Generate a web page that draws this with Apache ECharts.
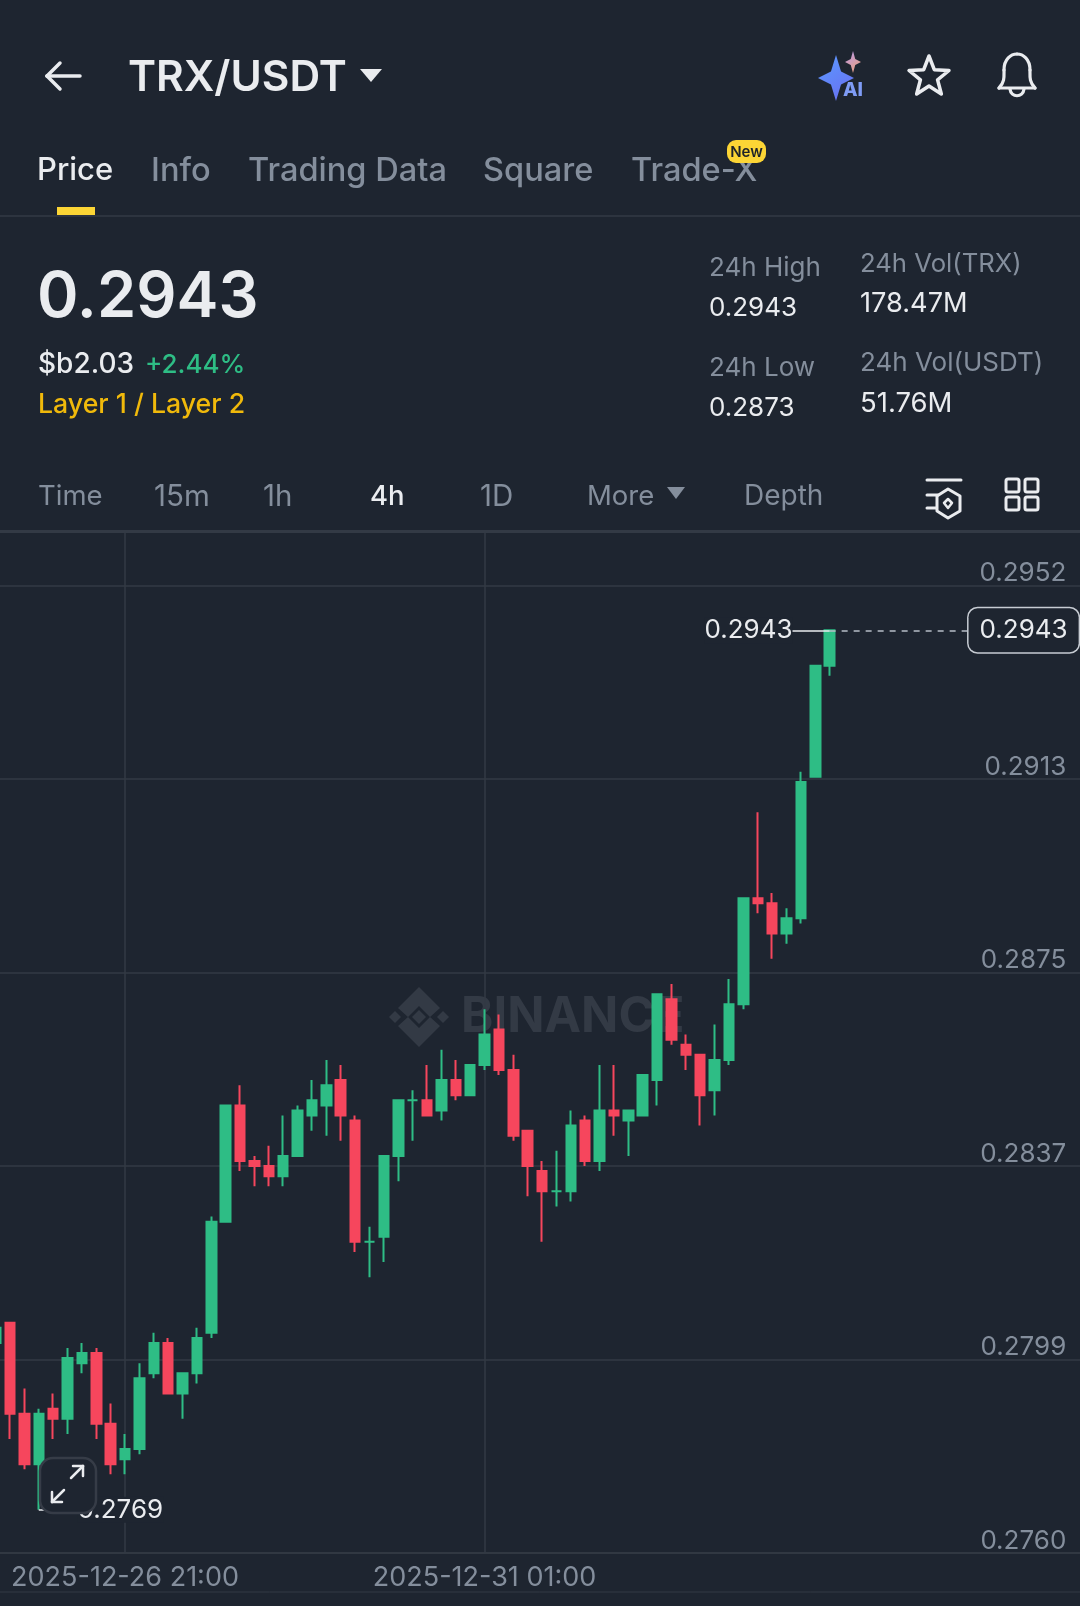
<!DOCTYPE html>
<html>
<head>
<meta charset="utf-8">
<title>TRX/USDT</title>
<style>html,body{margin:0;padding:0;background:#1e2530}#container{width:1080px;height:1606px}</style>
<script src="https://cdn.jsdelivr.net/npm/echarts@6/dist/echarts.min.js"></script>
</head>
<body>
<div id="container"></div>
<script>
// 4h candles
var categories = [
  '2025-12-25 09:00','2025-12-25 13:00','2025-12-25 17:00','2025-12-25 21:00',
  '2025-12-26 01:00','2025-12-26 05:00','2025-12-26 09:00','2025-12-26 13:00','2025-12-26 17:00','2025-12-26 21:00',
  '2025-12-27 01:00','2025-12-27 05:00','2025-12-27 09:00','2025-12-27 13:00','2025-12-27 17:00','2025-12-27 21:00',
  '2025-12-28 01:00','2025-12-28 05:00','2025-12-28 09:00','2025-12-28 13:00','2025-12-28 17:00','2025-12-28 21:00',
  '2025-12-29 01:00','2025-12-29 05:00','2025-12-29 09:00','2025-12-29 13:00','2025-12-29 17:00','2025-12-29 21:00',
  '2025-12-30 01:00','2025-12-30 05:00','2025-12-30 09:00','2025-12-30 13:00','2025-12-30 17:00','2025-12-30 21:00',
  '2025-12-31 01:00','2025-12-31 05:00','2025-12-31 09:00','2025-12-31 13:00','2025-12-31 17:00','2025-12-31 21:00',
  '2026-01-01 01:00','2026-01-01 05:00','2026-01-01 09:00','2026-01-01 13:00','2026-01-01 17:00','2026-01-01 21:00',
  '2026-01-02 01:00','2026-01-02 05:00','2026-01-02 09:00','2026-01-02 13:00','2026-01-02 17:00','2026-01-02 21:00',
  '2026-01-03 01:00','2026-01-03 05:00','2026-01-03 09:00','2026-01-03 13:00','2026-01-03 17:00','2026-01-03 21:00',
  '2026-01-04 01:00'
];
var opens = [.2802,.2806,.2788,.2778,.2789,.2787,.2798,.2800,.2786,.2779,.2781,.2796,.2802,.2792,.2796,.2804,.2826,.2849,.2838,.2837,
  .2835,.2839,.2847,.2849,.2854,.2846,.2822,.2823,.2839,.2850,.2850,.2848,.2854,.2851,.2857,.2864,.2856,.2844,.2836,.2832,
  .2832,.2846,.2838,.2848,.2846,.2847,.2854,.2870,.2861,.2859,.2852,.2858,.2869,.2890,.2889,.2883,.2886,.2914,.2936];
var closes = [.2805,.2788,.2778,.2788,.2787,.2799,.2800,.2786,.2778,.2781,.2795,.2802,.2792,.2796,.2803,.2826,.2849,.2838,.2837,.2835,
  .2839,.2848,.2850,.2853,.2847,.2822,.2822,.2839,.2850,.2850,.2847,.2854,.2851,.2857,.2863,.2856,.2843,.2837,.2832,.2832,
  .2845,.2838,.2848,.2847,.2848,.2855,.2871,.2862,.2859,.2851,.2858,.2869,.2890,.2889,.2883,.2886,.2913,.2936,.2943];
var lows = [.2802,.2783,.2777,.2769,.2783,.2784,.2796,.2783,.2776,.2776,.2780,.2795,.2792,.2787,.2794,.2803,.2826,.2836,.2833,.2833,
  .2833,.2839,.2844,.2843,.2842,.2820,.2815,.2818,.2834,.2842,.2847,.2846,.2850,.2851,.2856,.2855,.2842,.2831,.2822,.2829,
  .2830,.2837,.2836,.2843,.2839,.2847,.2849,.2861,.2856,.2845,.2847,.2857,.2868,.2887,.2878,.2881,.2885,.2914,.2934];
var highs = [.2805,.2806,.2793,.2789,.2792,.2801,.2802,.2801,.2790,.2784,.2798,.2804,.2803,.2796,.2805,.2827,.2849,.2853,.2839,.2841,
  .2847,.2849,.2854,.2858,.2857,.2847,.2825,.2839,.2850,.2852,.2857,.2860,.2858,.2857,.2868,.2867,.2859,.2844,.2838,.2840,
  .2848,.2847,.2857,.2857,.2848,.2855,.2871,.2873,.2863,.2859,.2865,.2874,.2890,.2907,.2891,.2888,.2915,.2936,.2943];
var xTickLabels = ['2025-12-26 21:00', '2025-12-31 01:00'];
var yTicks = [0.27605, 0.279877, 0.283704, 0.287531, 0.291358, 0.295185];
var yTickLabels = ['0.2760', '0.2799', '0.2837', '0.2875', '0.2913', '0.2952'];
var lastPrice = 0.2943, lowPrice = 0.2769;
var tabs = ['Price', 'Info', 'Trading Data', 'Square', 'Trade-X'];
var periods = ['Time', '15m', '1h', '4h', '1D', 'More', 'Depth'];

var BG = '#1e2530', LINE = '#333a45', GREY = '#848e9c', WHITE = '#eaecef', GREEN = '#2ebd85', RED = '#f6465d';
var FONT = 'Inter';

var axisCats = categories.slice();
while (axisCats.length < 76) axisCats.push(''); // empty room right of the last candle
var ohlc = categories.map(function (c, i) { return [opens[i], closes[i], lows[i], highs[i]]; });
var lastIdx = categories.length - 1;
var isXTick = function (i, v) { return xTickLabels.indexOf(v) >= 0; };

function txt(x, y, s, size, color, weight, align) {
  return { type: 'text', z: 10, x: x, y: y, style: { text: s, fontFamily: FONT, fontSize: size, fill: color, fontWeight: weight || 400, align: align || 'left', verticalAlign: 'middle' } };
}
function line(x1, y1, x2, y2, color, w, z) {
  return { type: 'line', z: z || 10, shape: { x1: x1, y1: y1, x2: x2, y2: y2 }, style: { stroke: color, lineWidth: w, lineCap: 'round' } };
}
function poly(points, fill, stroke, w, z) {
  return { type: 'polygon', z: z === undefined ? 10 : z, shape: { points: points }, style: { fill: fill || 'none', stroke: stroke || 'none', lineWidth: w || 0, lineJoin: 'round' } };
}
function box(x, y, w, h, r, fill, stroke, lw, z) {
  return { type: 'rect', z: z || 10, shape: { x: x, y: y, width: w, height: h, r: r }, style: { fill: fill || 'none', stroke: stroke || 'none', lineWidth: lw || 0 } };
}
function curve(x1, y1, cx1, cy1, cx2, cy2, x2, y2, color, w) {
  return { type: 'bezierCurve', z: 10, shape: { x1: x1, y1: y1, cpx1: cx1, cpy1: cy1, cpx2: cx2, cpy2: cy2, x2: x2, y2: y2 }, style: { fill: 'none', stroke: color, lineWidth: w, lineCap: 'round' } };
}
function star4(cx, cy, rx, ry) {
  var a = 0.28;
  return [[cx, cy - ry], [cx + rx * a, cy - ry * a], [cx + rx, cy], [cx + rx * a, cy + ry * a], [cx, cy + ry], [cx - rx * a, cy + ry * a], [cx - rx, cy], [cx - rx * a, cy - ry * a]];
}
function star5(cx, cy, R, r) {
  var p = [];
  for (var i = 0; i < 10; i++) {
    var rad = i % 2 ? r : R, ang = -Math.PI / 2 + i * Math.PI / 5;
    p.push([cx + rad * Math.cos(ang), cy + rad * Math.sin(ang)]);
  }
  return p;
}
function grad(a, b) {
  return new echarts.graphic.LinearGradient(0, 0, 1, 1, [{ offset: 0, color: a }, { offset: 1, color: b }]);
}

var g = [];
// header
g.push(line(47, 76, 80, 76, WHITE, 3.5), line(47, 76, 60, 63, WHITE, 3.5), line(47, 76, 60, 89, WHITE, 3.5));
g.push(txt(128, 78, 'TRX/USDT', 42.5, WHITE, 600));
g.push(poly([[360, 69], [382, 69], [371, 82]], WHITE));
g.push(poly(star4(836, 78, 18, 23), grad('#5a9bff', '#6a6cf0')), poly(star4(853, 62, 8, 11), grad('#b79af0', '#f0a070')));
g.push(txt(843, 90, 'AI', 19, '#7f9cf5', 800));
g.push(poly(star5(929, 77, 21, 9), null, WHITE, 3.5));
// bell
g.push(curve(999, 88, 1005, 82, 1004, 76, 1004, 70, WHITE, 3.2), curve(1004, 70, 1004, 59, 1011, 54, 1017, 54, WHITE, 3.2));
g.push(curve(1017, 54, 1023, 54, 1030, 59, 1030, 70, WHITE, 3.2), curve(1030, 70, 1030, 76, 1029, 82, 1035, 88, WHITE, 3.2));
g.push(line(999, 88, 1035, 88, WHITE, 3.2), curve(1010, 89, 1011, 98, 1023, 98, 1024, 89, WHITE, 3.2));

// tabs
var tabX = [37, 151, 248, 483, 631];
tabs.forEach(function (t, i) { g.push(txt(tabX[i], 171, t, i === 0 ? 31 : 32.6, i === 0 ? WHITE : GREY, 500)); });
g.push(box(727, 140, 39, 23, 9, '#fcd535'), txt(746.5, 152, 'New', 15, '#1e2329', 600, 'center'));
g.push(box(57, 207, 38, 8, 0, '#fcd535'));
g.push(line(0, 216, 1080, 216, LINE, 1.5));

// price block
g.push(txt(37, 298, '0.2943', 63, WHITE, 600));
g.push(txt(38, 365, '$b2.03', 28, WHITE, 500), txt(145, 365, '+2.44%', 26, GREEN, 500));
g.push(txt(38, 405, 'Layer 1 / Layer 2', 26.7, '#f0b90b', 500));
g.push(txt(709, 268, '24h High', 26, GREY), txt(709, 308, '0.2943', 26, WHITE));
g.push(txt(709, 368, '24h Low', 26, GREY), txt(709, 408, '0.2873', 26, WHITE));
g.push(txt(860, 264, '24h Vol(TRX)', 25.7, GREY), txt(860, 304, '178.47M', 27.2, WHITE));
g.push(txt(860, 363, '24h Vol(USDT)', 26, GREY), txt(860, 404, '51.76M', 27.5, WHITE));

// period row
var periodX = [38, 154, 263, 370, 480, 587, 744];
var periodSizes = [27.5, 29.5, 29.5, 27.5, 29.5, 27.5, 28];
periods.forEach(function (p, i) { g.push(txt(periodX[i], 497, p, periodSizes[i], i === 3 ? WHITE : GREY, i === 3 ? 500 : 400)); });
g.push(poly([[667, 487], [685, 487], [676, 499]], GREY));
g.push(line(927, 480, 961, 480, WHITE, 3), line(927, 495, 938, 495, WHITE, 3), line(927, 508, 936, 508, WHITE, 3));
g.push(poly([[948, 489], [960, 496], [960, 511], [948, 518], [937, 511], [937, 496]], null, WHITE, 3));
g.push(poly([[948, 499], [952, 503], [948, 508], [944, 503]], null, WHITE, 2.5));
[[1006, 479], [1025, 479], [1006, 497], [1025, 497]].forEach(function (p) { g.push(box(p[0], p[1], 13, 13, 2, null, WHITE, 3)); });
g.push(box(0, 530, 1080, 3, 0, LINE, null, 0, 1));
g.push(line(0, 1592, 1080, 1592, LINE, 1, 1));

// watermark behind the candles
var WM = '#333a45';
g.push(txt(461, 1017, 'BINANCE', 49, WM, 700));
g[g.length - 1].z = 0;
[[[419, 987], [440, 1008], [430, 1017], [419, 1006], [408, 1017], [398, 1008]],
 [[419, 1047], [440, 1026], [430, 1017], [419, 1028], [408, 1017], [398, 1026]],
 [[419, 1010], [426, 1017], [419, 1024], [412, 1017]],
 [[443, 1011], [449, 1017], [443, 1023], [437, 1017]],
 [[395, 1011], [401, 1017], [395, 1023], [389, 1017]]].forEach(function (p) { g.push(poly(p, WM, null, 0, 0)); });

// expand button over the chart
g.push(box(40, 1458, 56, 55, 13, BG, '#363c47', 2.5, 20));
g.push(line(71, 1478, 83, 1466, WHITE, 2.5, 21), line(73, 1466, 83, 1466, WHITE, 2.5, 21), line(83, 1466, 83, 1476, WHITE, 2.5, 21));
g.push(line(64, 1490, 52, 1502, WHITE, 2.5, 21), line(52, 1492, 52, 1502, WHITE, 2.5, 21), line(52, 1502, 62, 1502, WHITE, 2.5, 21));

var option = {
  backgroundColor: BG,
  animation: false,
  textStyle: { fontFamily: FONT },
  grid: { left: -11.57, right: -1.3, top: 532, bottom: 53.3, containLabel: false, outerBoundsMode: 'none' },
  xAxis: {
    type: 'category',
    data: axisCats,
    boundaryGap: true,
    axisLine: { show: true, lineStyle: { color: LINE, width: 1.5 } },
    axisTick: { show: false },
    axisLabel: { interval: isXTick, color: GREY, fontSize: 27, fontFamily: FONT, margin: 12, hideOverlap: false },
    splitLine: { show: true, interval: isXTick, alignWithLabel: true, lineStyle: { color: LINE, width: 1.5 } }
  },
  yAxis: {
    type: 'value',
    position: 'right',
    scale: true,
    min: yTicks[0],
    max: 0.296244,
    axisLine: { show: false },
    axisTick: { show: false, customValues: yTicks },
    axisLabel: {
      customValues: yTicks, inside: true, margin: 15, color: GREY, fontSize: 26, fontFamily: FONT,
      verticalAlign: 'bottom', lineHeight: 24,
      formatter: function (v) { return yTickLabels[yTicks.indexOf(v)]; }
    },
    splitLine: { show: true, lineStyle: { color: LINE, width: 1.5 } }
  },
  series: [{
    type: 'candlestick',
    data: ohlc,
    barWidth: 10,
    z: 5,
    itemStyle: { color: GREEN, color0: RED, borderColor: GREEN, borderColor0: RED, borderWidth: 2 },
    markLine: {
      silent: true, symbol: 'none', z: 6, animation: false,
      label: { show: false },
      data: [
        [{ coord: [lastIdx, lastPrice], lineStyle: { color: '#b7bdc6', type: [6, 6], width: 1.5 } }, { coord: [70, lastPrice] }],
        [{ coord: [lastIdx - 3, lastPrice], lineStyle: { color: WHITE, type: 'solid', width: 1.5 } }, { coord: [lastIdx, lastPrice] }],
        [{ coord: [3, lowPrice], lineStyle: { color: WHITE, type: 'solid', width: 1.5 } }, { coord: [5, lowPrice] }]
      ]
    },
    markPoint: {
      silent: true, symbol: 'circle', symbolSize: 0, z: 8, animation: false,
      data: [
        { coord: [lastIdx - 3, lastPrice], label: { show: true, position: 'left', distance: 0, offset: [6, 0], formatter: lastPrice.toFixed(4), color: WHITE, fontSize: 26, fontFamily: FONT, backgroundColor: BG } },
        { coord: [5, lowPrice], label: { show: true, position: 'right', distance: 0, offset: [10, 0], formatter: lowPrice.toFixed(4), color: WHITE, fontSize: 26, fontFamily: FONT, backgroundColor: BG } },
        { coord: [71, lastPrice], label: { show: true, position: 'inside', offset: [7, 0], formatter: lastPrice.toFixed(4), color: WHITE, fontSize: 26, fontFamily: FONT, backgroundColor: BG, borderColor: '#c7ccd3', borderWidth: 1.5, borderRadius: 9, padding: [9, 11] } }
      ]
    }
  }],
  graphic: { elements: g }
};

var myChart = echarts.init(document.getElementById('container'));
myChart.setOption(option);
</script>
</body>
</html>
